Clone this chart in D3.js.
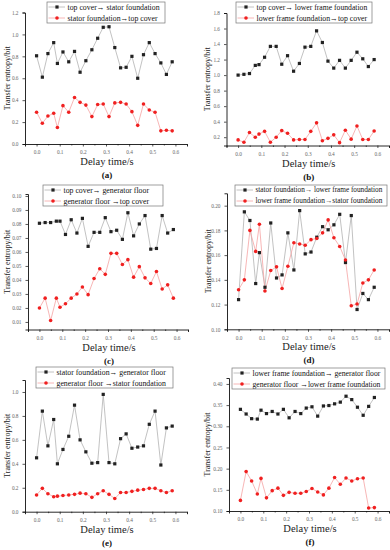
<!DOCTYPE html>
<html>
<head>
<meta charset="utf-8">
<script src="https://cdn.jsdelivr.net/npm/d3@7"></script>
<style>
  body { margin: 0; background: #fff; }
  svg { display: block; }
  text { font-family: 'Liberation Serif', 'Times New Roman', serif; }
</style>
</head>
<body>
<div class="canvas"></div>
<script>
/*--------------------------------
  DATA
--------------------------------*/
const delays = [0, 0.025, 0.049, 0.074, 0.09, 0.114, 0.139, 0.164, 0.188, 0.213, 0.239, 0.264, 0.288,
  0.313, 0.338, 0.363, 0.387, 0.412, 0.437, 0.462, 0.487, 0.512, 0.537, 0.561, 0.586];
const xTicks = [0, 0.1, 0.2, 0.3, 0.4, 0.5, 0.6];
const xMinorTicks = [-0.05, 0.05, 0.15, 0.25, 0.35, 0.45, 0.55, 0.65];

// (a)
const aNames = ['top cover\u2192 stator foundation', 'stator foundation\u2192top cover'];
const aForward = [0.805, 0.61, 0.825, 0.925, 0.735, 0.84, 0.75, 0.845, 0.655, 0.76, 0.86, 0.965, 1.065,
  1.07, 0.88, 0.695, 0.70, 0.80, 0.60, 0.815, 0.925, 0.825, 0.74, 0.635, 0.75];
const aBackward = [0.29, 0.19, 0.255, 0.28, 0.15, 0.35, 0.29, 0.425, 0.38, 0.355, 0.25, 0.36, 0.365,
  0.25, 0.375, 0.38, 0.365, 0.295, 0.17, 0.365, 0.31, 0.29, 0.12, 0.125, 0.12];
const aTicks = [0, 0.2, 0.4, 0.6, 0.8, 1.0, 1.2];

// (b)
const bNames = ['top cover\u2192 lower frame foundation', 'lower frame foundation\u2192top cover'];
const bForward = [1.0, 1.01, 1.02, 1.125, 1.135, 1.23, 1.37, 1.37, 1.14, 1.25, 1.05, 1.15, 1.36,
  1.37, 1.57, 1.42, 1.18, 1.09, 1.19, 1.09, 1.19, 1.295, 1.21, 1.11, 1.20];
const bBackward = [0.165, 0.135, 0.26, 0.20, 0.24, 0.275, 0.135, 0.20, 0.285, 0.25, 0.165, 0.17, 0.17,
  0.275, 0.385, 0.155, 0.185, 0.23, 0.13, 0.29, 0.175, 0.345, 0.17, 0.17, 0.28];
const bTicks = [0.2, 0.4, 0.6, 0.8, 1.0, 1.2, 1.4, 1.6, 1.8];

// (c)
const cNames = ['top cover\u2192 generator floor', 'generator floor \u2192top cover'];
const cForward = [0.0805, 0.081, 0.081, 0.082, 0.082, 0.0725, 0.083, 0.0735, 0.084, 0.064, 0.074, 0.074, 0.0845,
  0.0745, 0.0755, 0.069, 0.088, 0.0715, 0.080, 0.086, 0.062, 0.0625, 0.086, 0.0735, 0.076];
const cBackward = [0.020, 0.027, 0.011, 0.027, 0.0205, 0.023, 0.027, 0.030, 0.035, 0.0295, 0.041, 0.048, 0.044,
  0.059, 0.059, 0.051, 0.0545, 0.042, 0.0495, 0.0415, 0.0375, 0.046, 0.0335, 0.0365, 0.027];
const cTicks = [0.01, 0.02, 0.03, 0.04, 0.05, 0.06, 0.07, 0.08, 0.09, 0.10];

// (d)
const dNames = ['stator foundation\u2192 lower frame foundation', 'lower frame foundation\u2192stator foundation'];
const dForward = [0.124, 0.195, 0.188, 0.137, 0.162, 0.134, 0.186, 0.1415, 0.144, 0.178, 0.148, 0.196, 0.161,
  0.1625, 0.1745, 0.183, 0.1805, 0.1845, 0.193, 0.154, 0.192, 0.116, 0.129, 0.124, 0.134];
const dBackward = [0.132, 0.140, 0.180, 0.163, 0.185, 0.131, 0.1475, 0.1505, 0.133, 0.151, 0.170, 0.169, 0.168,
  0.1725, 0.1735, 0.178, 0.1885, 0.174, 0.167, 0.156, 0.119, 0.1205, 0.1375, 0.140, 0.148];
const dTicks = [0.10, 0.12, 0.14, 0.16, 0.18, 0.20];

// (e)
const eNames = ['stator foundation\u2192 generator floor', 'generator floor \u2192stator foundation'];
const eForward = [0.45, 0.84, 0.55, 0.77, 0.40, 0.52, 0.63, 0.89, 0.60, 0.50, 0.405, 0.41, 0.98,
  0.41, 0.40, 0.61, 0.65, 0.53, 0.54, 0.55, 0.73, 0.84, 0.39, 0.70, 0.715];
const eBackward = [0.14, 0.195, 0.15, 0.125, 0.13, 0.135, 0.14, 0.145, 0.155, 0.15, 0.12, 0.15, 0.175,
  0.145, 0.11, 0.16, 0.16, 0.17, 0.18, 0.185, 0.195, 0.195, 0.175, 0.16, 0.175];
const eTicks = [0, 0.2, 0.4, 0.6, 0.8, 1.0];

// (f)
const fNames = ['lower frame foundation\u2192 generator floor', 'generator floor \u2192lower frame foundation'];
const fForward = [0.340, 0.329, 0.318, 0.317, 0.338, 0.330, 0.335, 0.329, 0.340, 0.320, 0.335, 0.330, 0.343,
  0.346, 0.324, 0.348, 0.349, 0.353, 0.357, 0.371, 0.363, 0.345, 0.326, 0.347, 0.368];
const fBackward = [0.125, 0.193, 0.171, 0.140, 0.177, 0.131, 0.148, 0.154, 0.137, 0.144, 0.142, 0.142, 0.146,
  0.153, 0.145, 0.138, 0.154, 0.179, 0.163, 0.178, 0.171, 0.176, 0.178, 0.107, 0.108];
const fTicks = [0.10, 0.15, 0.20, 0.25, 0.30, 0.35, 0.40];

/*--------------------------------
  LAYOUT
--------------------------------*/
const panels = [
  { tag: '(a)', names: aNames, fw: aForward, bw: aBackward, ticks: aTicks, fmt: '.1f', yDom: [0, 1.2],
    left: 25, right: 187, top: 12.5, bottom: 144, legend: [47, 2, 118], titleX: 7 },
  { tag: '(b)', names: bNames, fw: bForward, bw: bBackward, ticks: bTicks, fmt: '.1f', yDom: [0.093, 1.8],
    left: 226.5, right: 389, top: 13, bottom: 145.5, legend: [236, 2, 136], titleX: 207 },
  { tag: '(c)', names: cNames, fw: cForward, bw: cBackward, ticks: cTicks, fmt: '.2f', yDom: [0.0046, 0.1014],
    left: 28, right: 188, top: 194, bottom: 329.5, legend: [43, 185, 120], titleX: 7 },
  { tag: '(d)', names: dNames, fw: dForward, bw: dBackward, ticks: dTicks, fmt: '.2f', yDom: [0.10, 0.21],
    left: 227, right: 389, top: 193.3, bottom: 329.3, legend: [235, 185, 152], titleX: 208 },
  { tag: '(e)', names: eNames, fw: eForward, bw: eBackward, ticks: eTicks, fmt: '.1f', yDom: [0, 1.1],
    left: 25, right: 187, top: 380, bottom: 511.7, legend: [36, 367, 137], titleX: 7 },
  { tag: '(f)', names: fNames, fw: fForward, bw: fBackward, ticks: fTicks, fmt: '.2f', yDom: [0.10, 0.414],
    left: 229, right: 389, top: 378, bottom: 511, legend: [232, 368, 153], titleX: 207 },
];

const svg = d3.select('.canvas')
  .append('svg')
  .attr('width', 390)
  .attr('height', 550);

const colors = { fw: '#222', fwLine: '#b3b3b3', bw: '#f02020', bwLine: '#f5a3a3' };

/*--------------------------------
  DRAW EACH PANEL
--------------------------------*/
panels.forEach((p) => {
  const g = svg.append('g');
  const x = d3.scaleLinear().domain([-0.05, 0.65]).range([p.left, p.right]);
  const y = d3.scaleLinear().domain(p.yDom).range([p.bottom, p.top]);

  // axes
  const xAxis = d3.axisBottom(x).tickValues(xTicks).tickFormat(d3.format('.1f')).tickSize(2.5).tickPadding(4);
  const xMinor = d3.axisBottom(x).tickValues(xMinorTicks).tickFormat('').tickSize(1.5);
  const yAxis = d3.axisLeft(y).tickValues(p.ticks).tickFormat(d3.format(p.fmt)).tickSize(2.5).tickPadding(4);

  const xg = g.append('g').attr('transform', `translate(0, ${p.bottom})`).call(xAxis);
  g.append('g').attr('transform', `translate(0, ${p.bottom})`).call(xMinor).select('.domain').remove();
  const yg = g.append('g').attr('transform', `translate(${p.left}, 0)`).call(yAxis);

  [xg, yg].forEach((ax) => {
    ax.select('.domain').attr('stroke', '#111').attr('stroke-width', 0.9);
    ax.selectAll('.tick text')
      .attr('font-family', "'Liberation Mono', monospace")
      .attr('font-size', 5.3)
      .attr('fill', '#666');
  });
  g.selectAll('.tick line').attr('stroke', '#111').attr('stroke-width', 0.7);

  // titles
  g.append('text')
    .attr('x', (p.left + p.right) / 2 + 1)
    .attr('y', p.bottom + 21)
    .attr('text-anchor', 'middle')
    .attr('font-size', 10.5)
    .attr('fill', '#222')
    .text('Delay time/s');

  g.append('text')
    .attr('transform', `translate(${p.titleX}, ${(p.top + p.bottom) / 2}) rotate(-90)`)
    .attr('text-anchor', 'middle')
    .attr('dy', '0.35em')
    .attr('font-size', 8)
    .attr('fill', '#222')
    .text('Transfer entropy/bit');

  g.append('text')
    .attr('x', (p.left + p.right) / 2 + 1)
    .attr('y', p.bottom + 34)
    .attr('text-anchor', 'middle')
    .attr('font-size', 9)
    .attr('font-weight', 'bold')
    .attr('fill', '#111')
    .text(p.tag);

  // series lines + markers
  const line = d3.line().x((d, i) => x(delays[i])).y(d => y(d));

  g.append('path').datum(p.fw)
    .attr('fill', 'none').attr('stroke', colors.fwLine).attr('stroke-width', 0.8)
    .attr('d', line);
  g.append('path').datum(p.bw)
    .attr('fill', 'none').attr('stroke', colors.bwLine).attr('stroke-width', 0.8)
    .attr('d', line);

  g.selectAll('rect.fw').data(p.fw).enter()
    .append('rect')
    .attr('class', 'fw')
    .attr('x', (d, i) => x(delays[i]) - 1.6)
    .attr('y', d => y(d) - 1.6)
    .attr('width', 3.2)
    .attr('height', 3.2)
    .attr('fill', colors.fw);

  g.selectAll('circle.bw').data(p.bw).enter()
    .append('circle')
    .attr('class', 'bw')
    .attr('cx', (d, i) => x(delays[i]))
    .attr('cy', d => y(d))
    .attr('r', 1.8)
    .attr('fill', colors.bw);

  // legend
  const [lx, ly, lw] = p.legend;
  const leg = g.append('g').attr('transform', `translate(${lx}, ${ly})`);
  leg.append('rect')
    .attr('width', lw).attr('height', 21)
    .attr('fill', '#fff').attr('stroke', '#777').attr('stroke-width', 0.7);

  [[colors.fwLine, colors.fw, 'rect'], [colors.bwLine, colors.bw, 'circle']].forEach(([lc, mc, shape], i) => {
    const cy = 5 + i * 11;
    leg.append('line')
      .attr('x1', 1.5).attr('x2', 18).attr('y1', cy).attr('y2', cy)
      .attr('stroke', lc).attr('stroke-width', 0.8);
    if (shape === 'rect') {
      leg.append('rect').attr('x', 8.4).attr('y', cy - 1.6).attr('width', 3.2).attr('height', 3.2).attr('fill', mc);
    } else {
      leg.append('circle').attr('cx', 10).attr('cy', cy).attr('r', 1.8).attr('fill', mc);
    }
    const t = leg.append('text')
      .attr('x', 20.5).attr('y', cy).attr('dy', '0.33em')
      .attr('font-size', 7.8)
      .attr('fill', '#111')
      .text(p.names[i]);
    // long labels: shrink the font so they stay inside the box
    const room = lw - 25;
    const len = t.node().getComputedTextLength();
    if (len > room) {
      t.attr('font-size', 7.8 * room / len);
    }
  });
});
</script>
</body>
</html>
